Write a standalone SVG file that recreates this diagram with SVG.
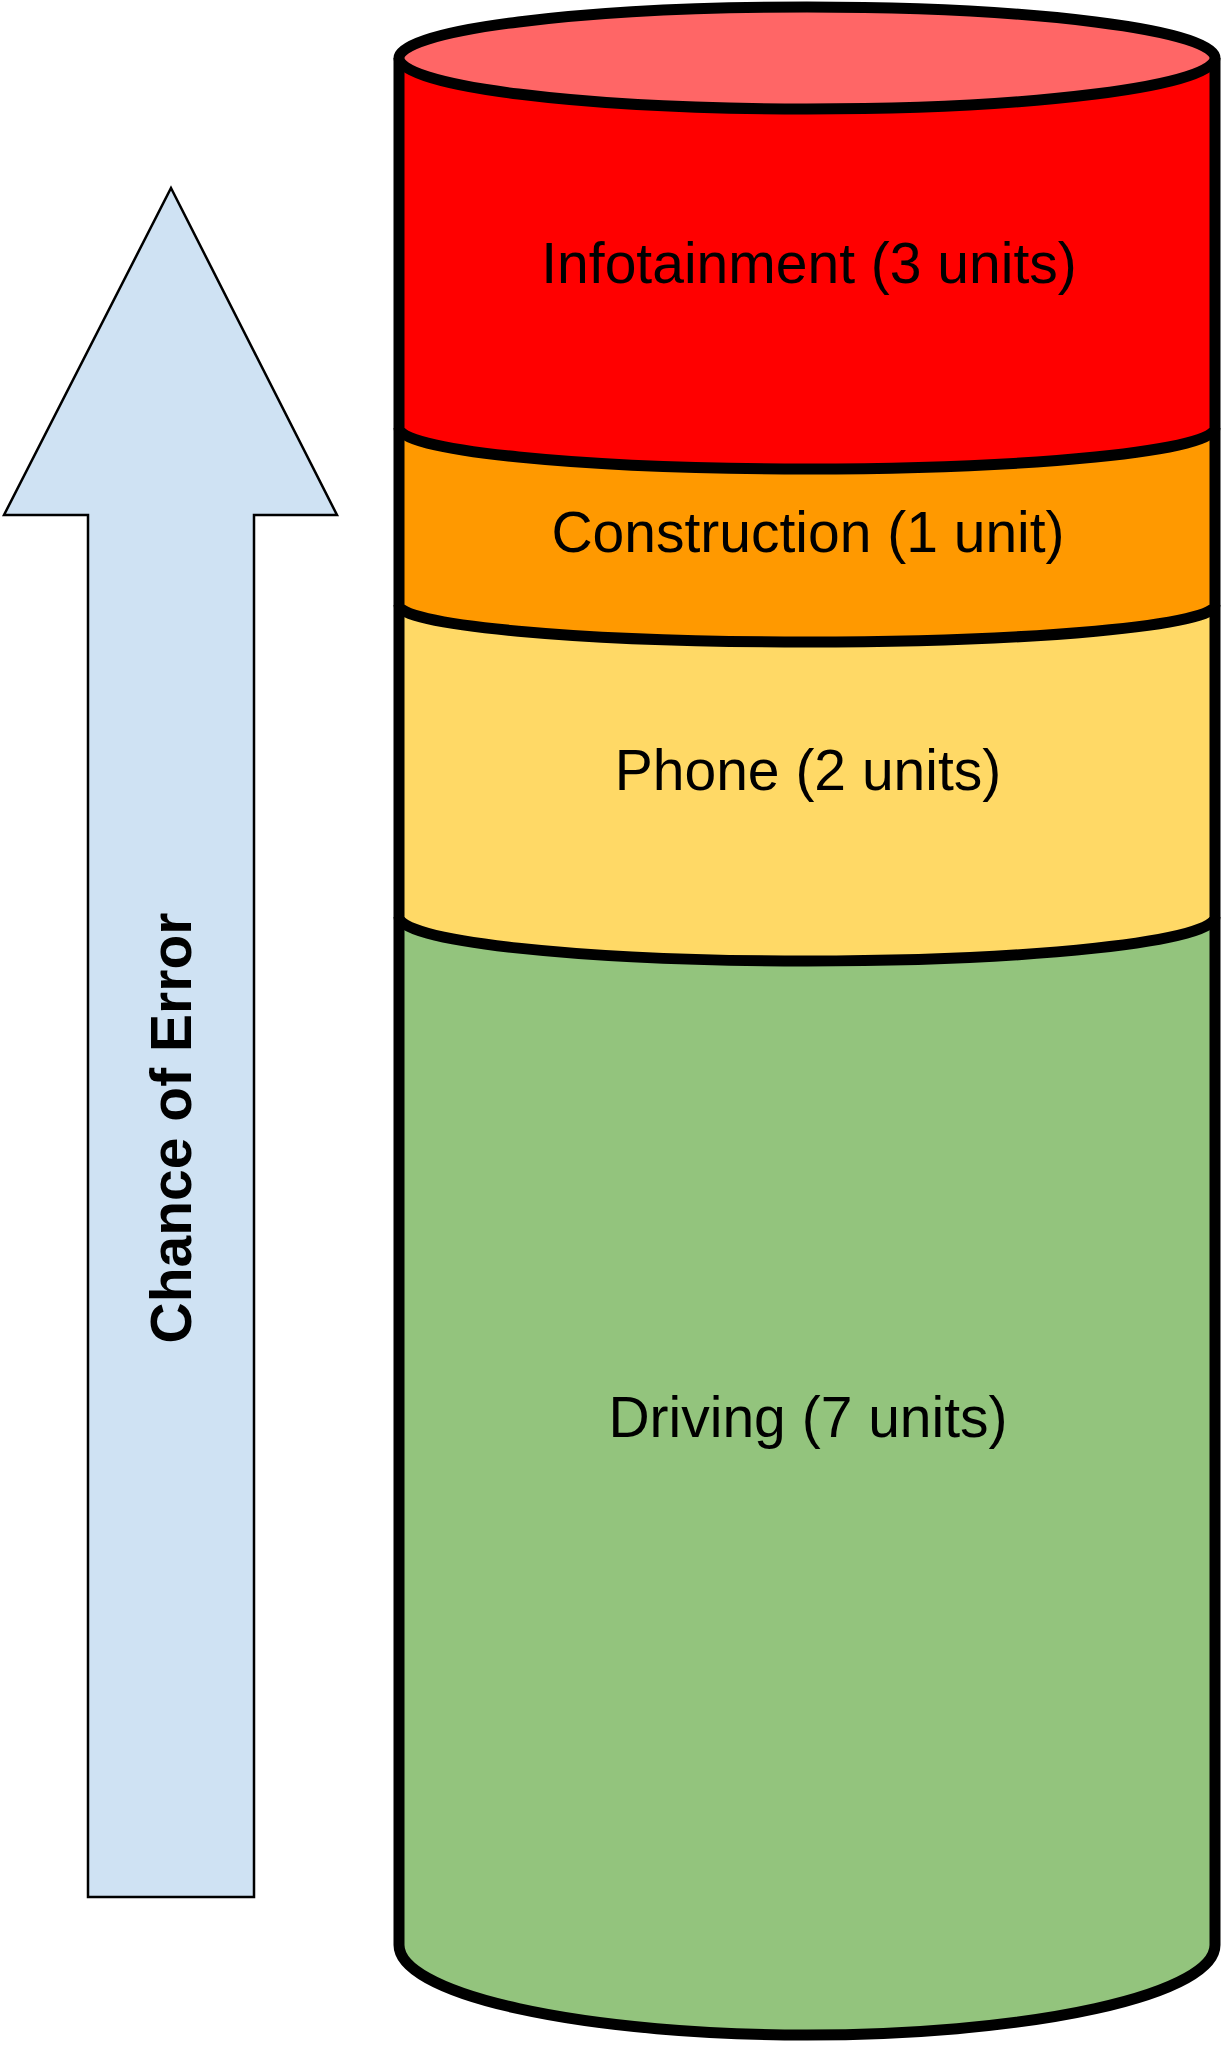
<svg xmlns="http://www.w3.org/2000/svg" width="1227" height="2048" viewBox="0 0 1227 2048">
<style>
.band{stroke:none}
.edge{fill:none;stroke:#000;stroke-width:11;stroke-linejoin:round}
.lbl{font-family:"Liberation Sans",Arial,sans-serif;font-size:57px;fill:#000;text-anchor:middle}
.arrow{fill:#CFE2F3;stroke:#000;stroke-width:2.5}
.alabel{font-family:"Liberation Sans",Arial,sans-serif;font-size:57px;font-weight:bold;fill:#000;text-anchor:middle}
</style>
<rect width="1227" height="2048" fill="#fff"/>
<g id="arrow">
<polygon class="arrow" points="171,188 337,515 254,515 254,1897 88,1897 88,515 4,515"/>
<text class="alabel" transform="translate(191,1128) rotate(-90)">Chance of Error</text>
</g>
<g id="driving">
<path class="band" fill="#93C47D" d="M399,917 A408,44 0 0 0 1215,917 L1215,1945 A408,90 0 0 1 399,1945 Z"/>
<text class="lbl" x="808" y="1437">Driving (7 units)</text>
</g>
<g id="phone">
<path class="band" fill="#FFD966" d="M399,605 A408,37 0 0 0 1215,605 L1215,917 A408,44 0 0 1 399,917 Z"/>
<text class="lbl" x="808" y="790">Phone (2 units)</text>
</g>
<g id="construction">
<path class="band" fill="#FF9900" d="M399,428 A408,41 0 0 0 1215,428 L1215,605 A408,37 0 0 1 399,605 Z"/>
<text class="lbl" x="808" y="552">Construction (1 unit)</text>
</g>
<g id="infotainment">
<path class="band" fill="#FF0000" d="M399,58 L1215,58 L1215,428 A408,41 0 0 1 399,428 Z"/>
<text class="lbl" x="809" y="283">Infotainment (3 units)</text>
</g>
<g id="outline">
<path class="edge" d="M399,58 L399,1945 A408,90 0 0 0 1215,1945 L1215,58"/>
<path class="edge" d="M399,428 A408,41 0 0 0 1215,428"/>
<path class="edge" d="M399,605 A408,37 0 0 0 1215,605"/>
<path class="edge" d="M399,917 A408,44 0 0 0 1215,917"/>
<ellipse class="edge" cx="807" cy="58" rx="408" ry="51" style="fill:#FF6666"/>
</g>
</svg>
